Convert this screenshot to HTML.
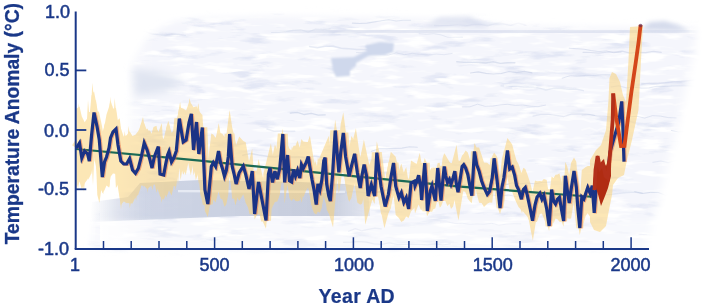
<!DOCTYPE html>
<html><head><meta charset="utf-8"><style>
html,body{margin:0;padding:0;background:#fff;}
body{width:709px;height:308px;overflow:hidden;}
svg{display:block;}
</style></head><body>
<svg width="709" height="308" viewBox="0 0 709 308">
<defs>
<filter id="b12" x="-20%" y="-20%" width="140%" height="140%"><feGaussianBlur stdDeviation="1.3"/></filter>
<filter id="b05"><feGaussianBlur stdDeviation="0.5"/></filter>
<filter id="b3" x="-20%" y="-20%" width="140%" height="140%"><feGaussianBlur stdDeviation="3"/></filter>
<filter id="b8" x="-20%" y="-20%" width="140%" height="140%"><feGaussianBlur stdDeviation="8"/></filter>
<filter id="b4" x="-20%" y="-20%" width="140%" height="140%"><feGaussianBlur stdDeviation="4"/></filter>
<filter id="b2" x="-20%" y="-20%" width="140%" height="140%"><feGaussianBlur stdDeviation="2"/></filter>
<filter id="b1"><feGaussianBlur stdDeviation="0.6"/></filter>
<linearGradient id="fadeL" x1="0" x2="1" y1="0" y2="0">
 <stop offset="0" stop-color="#fff" stop-opacity="1"/><stop offset="0.4" stop-color="#fff" stop-opacity="0.6"/><stop offset="1" stop-color="#fff" stop-opacity="0"/>
</linearGradient>
<filter id="tex" x="0" y="0" width="100%" height="100%">
 <feTurbulence type="fractalNoise" baseFrequency="0.022 0.1" numOctaves="4" seed="7" result="n"/>
 <feColorMatrix in="n" type="matrix" values="0 0 0 0 0.77  0 0 0 0 0.8  0 0 0 0 0.91  5.5 0 0 0 -3.15" result="d"/>
 <feTurbulence type="fractalNoise" baseFrequency="0.03 0.15" numOctaves="3" seed="21" result="n2"/>
 <feColorMatrix in="n2" type="matrix" values="0 0 0 0 1  0 0 0 0 1  0 0 0 0 1  5 0 0 0 -2.6" result="w"/>
 <feMerge><feMergeNode in="d"/><feMergeNode in="w"/></feMerge>
</filter>
<filter id="mblur" x="-20%" y="-20%" width="140%" height="140%"><feGaussianBlur stdDeviation="4"/></filter>
<mask id="iceMask" maskUnits="userSpaceOnUse" x="0" y="0" width="709" height="308">
 <path d="M131,100 L132,62 L145,40 L160,28 L175,21 L200,18 L270,16 L420,18 L480,21 L510,26 L600,27 L700,28 L701,60 L688,120 L676,170 L666,210 L656,248 L90,248 L95,222 L125,195 Z" fill="#fff" filter="url(#mblur)"/>
</mask>
<linearGradient id="grayG" x1="90" x2="370" y1="0" y2="0" gradientUnits="userSpaceOnUse">
 <stop offset="0" stop-color="#ccd3e4" stop-opacity="0"/>
 <stop offset="0.1" stop-color="#ccd3e4" stop-opacity="0.6"/>
 <stop offset="0.2" stop-color="#ccd3e4" stop-opacity="0.95"/>
 <stop offset="0.85" stop-color="#c6ccdc" stop-opacity="1"/>
 <stop offset="1" stop-color="#d4d9e6" stop-opacity="0.6"/>
</linearGradient>
<linearGradient id="horG" x1="260" x2="700" y1="0" y2="0" gradientUnits="userSpaceOnUse">
 <stop offset="0" stop-color="#cdd4e8" stop-opacity="0"/>
 <stop offset="0.15" stop-color="#cdd4e8" stop-opacity="0.9"/>
 <stop offset="0.95" stop-color="#cdd4e8" stop-opacity="0.9"/>
 <stop offset="1" stop-color="#cdd4e8" stop-opacity="0"/>
</linearGradient>
<linearGradient id="fadeR" x1="0" x2="1" y1="0" y2="0">
 <stop offset="0" stop-color="#fff" stop-opacity="0"/><stop offset="0.6" stop-color="#fff" stop-opacity="0.5"/><stop offset="1" stop-color="#fff" stop-opacity="1"/>
</linearGradient>
</defs>
<rect width="709" height="308" fill="#fff"/>
<!-- ice -->
<g filter="url(#b3)">
 <path d="M131,100 L132,62 L145,40 L160,28 L175,21 L200,18 L270,16 L420,18 L480,21 L510,26 L600,27 L700,28 L701,60 L688,120 L676,170 L666,210 L656,248 L90,248 L95,222 L125,195 Z" fill="#f5f6fc"/>
</g>
<g mask="url(#iceMask)">
 <rect x="0" y="0" width="709" height="308" filter="url(#tex)"/>
 <g filter="url(#b05)"><path d="M476.4,188.1 L484.1,189.2 L491.8,187.1 L499.5,189.0 L507.2,190.9 L514.9,190.6 L522.7,191.9 L530.4,190.1 L538.1,191.7 L545.8,191.6 L553.5,193.0 L561.2,193.6 L569.0,192.5" fill="none" stroke="#ffffff" stroke-width="1.7" stroke-opacity="0.38" stroke-linecap="round"/>
<path d="M634.8,191.7 L642.5,193.5 L650.3,192.4 L658.0,192.4 L665.7,195.3 L673.4,193.7" fill="none" stroke="#c4cde4" stroke-width="1.0" stroke-opacity="0.59" stroke-linecap="round"/>
<path d="M611.1,87.0 L618.7,85.7 L626.3,87.9 L634.0,87.2 L641.6,88.1 L649.2,87.9 L656.8,86.2 L664.5,86.4 L672.1,85.9 L679.7,85.9 L687.3,85.7 L695.0,86.4 L702.6,87.4 L710.2,85.6 L717.8,87.7" fill="none" stroke="#c4cde4" stroke-width="1.1" stroke-opacity="0.39" stroke-linecap="round"/>
<path d="M582.0,129.8 L589.4,127.9 L596.8,130.6 L604.2,127.7 L611.6,129.9 L619.0,130.1 L626.4,127.6 L633.8,129.9" fill="none" stroke="#ffffff" stroke-width="1.9" stroke-opacity="0.47" stroke-linecap="round"/>
<path d="M144.9,31.5 L151.6,33.7 L158.4,34.7 L165.1,35.2 L171.8,33.9 L178.6,34.4 L185.3,35.4" fill="none" stroke="#c4cde4" stroke-width="1.4" stroke-opacity="0.33" stroke-linecap="round"/>
<path d="M544.1,201.1 L551.7,198.0 L559.2,198.2 L566.8,198.4 L574.3,198.8 L581.9,196.5 L589.4,197.7 L596.9,196.0 L604.5,194.7 L612.0,194.2 L619.6,193.2 L627.1,192.4 L634.7,192.0 L642.2,193.1" fill="none" stroke="#c4cde4" stroke-width="1.6" stroke-opacity="0.35" stroke-linecap="round"/>
<path d="M166.2,241.2 L174.0,242.2 L181.9,242.8 L189.7,241.5 L197.5,241.3 L205.3,240.1 L213.1,242.6 L220.9,239.8 L228.8,241.1 L236.6,242.0" fill="none" stroke="#ffffff" stroke-width="1.6" stroke-opacity="0.52" stroke-linecap="round"/>
<path d="M652.9,162.4 L660.6,161.0 L668.2,162.6 L675.9,160.5 L683.6,160.5 L691.2,161.7 L698.9,160.7 L706.5,160.6 L714.2,158.6 L721.9,158.2 L729.5,158.4 L737.2,157.2 L744.9,156.2" fill="none" stroke="#c4cde4" stroke-width="1.1" stroke-opacity="0.34" stroke-linecap="round"/>
<path d="M343.6,242.4 L351.2,242.1 L358.8,241.5 L366.4,242.2 L374.0,243.9 L381.6,244.3 L389.3,242.9 L396.9,244.4 L404.5,244.5 L412.1,244.4 L419.7,244.4 L427.3,244.9 L434.9,243.9 L442.6,245.0 L450.2,243.9" fill="none" stroke="#c4cde4" stroke-width="1.2" stroke-opacity="0.53" stroke-linecap="round"/>
<path d="M513.1,87.8 L520.6,86.2 L528.1,88.0 L535.7,87.3 L543.2,88.8 L550.7,88.3 L558.2,89.6 L565.8,89.2 L573.3,89.9 L580.8,88.7 L588.3,89.8 L595.9,90.2 L603.4,90.7 L610.9,89.4 L618.4,91.1" fill="none" stroke="#ffffff" stroke-width="2.4" stroke-opacity="0.51" stroke-linecap="round"/>
<path d="M667.1,234.3 L674.8,236.3 L682.4,236.7 L690.1,235.3 L697.8,236.0 L705.5,236.1 L713.1,236.2 L720.8,234.6 L728.5,236.4 L736.1,235.9" fill="none" stroke="#c4cde4" stroke-width="1.3" stroke-opacity="0.43" stroke-linecap="round"/>
<path d="M476.8,193.3 L484.7,194.0 L492.6,195.1 L500.6,196.0 L508.5,195.0 L516.4,196.7 L524.3,196.8 L532.2,195.3 L540.1,196.9 L548.0,196.4 L556.0,196.2" fill="none" stroke="#c4cde4" stroke-width="0.9" stroke-opacity="0.40" stroke-linecap="round"/>
<path d="M238.0,64.8 L245.0,65.4 L252.1,65.3 L259.1,64.2 L266.1,66.2" fill="none" stroke="#ffffff" stroke-width="1.5" stroke-opacity="0.42" stroke-linecap="round"/>
<path d="M290.4,113.1 L297.4,112.4 L304.3,114.5 L311.3,113.3 L318.2,115.1 L325.2,114.8" fill="none" stroke="#c4cde4" stroke-width="1.3" stroke-opacity="0.59" stroke-linecap="round"/>
<path d="M582.0,115.1 L589.8,114.6 L597.7,116.1 L605.5,116.2 L613.4,117.5 L621.2,117.8 L629.1,116.9 L636.9,116.3 L644.7,118.1 L652.6,115.6 L660.4,116.1 L668.3,117.6 L676.1,117.9" fill="none" stroke="#c4cde4" stroke-width="0.9" stroke-opacity="0.49" stroke-linecap="round"/>
<path d="M621.3,105.2 L629.0,106.9 L636.7,104.8 L644.4,106.2 L652.1,105.7 L659.9,104.4 L667.6,103.1 L675.3,104.9 L683.0,103.1" fill="none" stroke="#ffffff" stroke-width="1.9" stroke-opacity="0.40" stroke-linecap="round"/>
<path d="M671.5,130.5 L678.6,132.0 L685.6,131.4 L692.7,131.0 L699.7,132.4 L706.8,132.5 L713.8,130.0 L720.9,131.6" fill="none" stroke="#c4cde4" stroke-width="1.0" stroke-opacity="0.58" stroke-linecap="round"/>
<path d="M562.2,78.2 L570.2,75.7 L578.1,76.2 L586.1,75.4 L594.1,75.5 L602.0,74.9 L610.0,74.9" fill="none" stroke="#c4cde4" stroke-width="0.9" stroke-opacity="0.53" stroke-linecap="round"/>
<path d="M302.4,141.1 L310.0,140.6 L317.7,140.1 L325.3,141.0 L333.0,140.2 L340.6,138.3 L348.3,138.7 L355.9,139.1" fill="none" stroke="#ffffff" stroke-width="2.4" stroke-opacity="0.57" stroke-linecap="round"/>
<path d="M434.6,25.5 L442.2,25.8 L449.8,25.5 L457.4,24.9 L465.0,26.1 L472.6,24.5 L480.2,24.4 L487.8,25.7 L495.4,23.6 L503.0,23.8 L510.6,25.4 L518.2,23.0 L525.8,25.2" fill="none" stroke="#c4cde4" stroke-width="1.4" stroke-opacity="0.43" stroke-linecap="round"/>
<path d="M294.6,196.0 L302.5,195.8 L310.4,195.2 L318.3,194.2 L326.1,193.3 L334.0,194.1 L341.9,194.3 L349.8,191.7 L357.7,191.7 L365.5,193.0 L373.4,192.5 L381.3,191.6 L389.2,189.3 L397.0,190.9" fill="none" stroke="#c4cde4" stroke-width="1.6" stroke-opacity="0.60" stroke-linecap="round"/>
<path d="M518.7,33.3 L526.1,33.9 L533.5,32.9 L541.0,30.8 L548.4,30.9 L555.8,32.5 L563.2,29.8 L570.7,30.9 L578.1,30.0 L585.5,28.9 L593.0,29.9 L600.4,27.9 L607.8,27.7 L615.2,28.2" fill="none" stroke="#ffffff" stroke-width="1.6" stroke-opacity="0.32" stroke-linecap="round"/>
<path d="M450.6,187.3 L458.3,186.5 L466.0,186.9 L473.6,186.2 L481.3,187.1 L489.0,184.9 L496.6,183.5 L504.3,185.0 L512.0,182.9 L519.6,183.9 L527.3,183.1 L535.0,183.8 L542.6,182.3 L550.3,182.1" fill="none" stroke="#c4cde4" stroke-width="1.0" stroke-opacity="0.47" stroke-linecap="round"/>
<path d="M277.3,188.6 L284.9,188.5 L292.6,189.2 L300.2,187.1 L307.9,188.2 L315.6,187.6 L323.2,185.4 L330.9,186.7 L338.5,184.6 L346.2,184.2" fill="none" stroke="#c4cde4" stroke-width="1.3" stroke-opacity="0.37" stroke-linecap="round"/>
<path d="M613.5,127.7 L621.0,130.2 L628.5,128.5 L636.0,129.2 L643.5,131.9 L651.0,131.5 L658.5,130.4 L666.0,130.5" fill="none" stroke="#ffffff" stroke-width="2.5" stroke-opacity="0.50" stroke-linecap="round"/>
<path d="M583.1,52.4 L590.9,52.5 L598.7,53.1 L606.6,52.2 L614.4,52.1 L622.2,51.2 L630.0,53.1 L637.8,52.3 L645.6,52.6 L653.4,51.3 L661.2,52.4" fill="none" stroke="#c4cde4" stroke-width="1.2" stroke-opacity="0.48" stroke-linecap="round"/>
<path d="M449.6,185.7 L456.9,185.7 L464.2,184.7 L471.5,186.8 L478.9,185.1 L486.2,185.5 L493.5,182.7 L500.9,183.7 L508.2,184.4" fill="none" stroke="#c4cde4" stroke-width="1.3" stroke-opacity="0.43" stroke-linecap="round"/>
<path d="M391.4,43.9 L399.0,43.5 L406.7,44.6 L414.3,42.0 L421.9,41.8 L429.6,41.5" fill="none" stroke="#ffffff" stroke-width="1.7" stroke-opacity="0.39" stroke-linecap="round"/>
<path d="M267.0,129.1 L273.9,131.3 L280.9,131.0 L287.8,131.4 L294.7,131.3" fill="none" stroke="#c4cde4" stroke-width="1.6" stroke-opacity="0.34" stroke-linecap="round"/>
<path d="M501.0,85.9 L508.5,86.3 L516.0,86.0 L523.5,86.9 L531.0,86.7 L538.4,88.0 L545.9,90.0 L553.4,88.4 L560.9,88.5 L568.4,89.3 L575.9,89.0 L583.4,90.6" fill="none" stroke="#c4cde4" stroke-width="1.4" stroke-opacity="0.35" stroke-linecap="round"/>
<path d="M269.9,171.7 L277.4,173.5 L284.9,170.8 L292.4,171.1 L299.9,173.4 L307.4,172.5 L314.9,171.6 L322.4,173.3 L329.9,174.8 L337.3,173.5 L344.8,173.2 L352.3,172.6 L359.8,172.7 L367.3,175.4 L374.8,174.3" fill="none" stroke="#ffffff" stroke-width="2.4" stroke-opacity="0.32" stroke-linecap="round"/>
<path d="M271.5,32.5 L278.8,32.5 L286.2,31.6 L293.5,30.4 L300.9,29.8 L308.2,32.1 L315.5,29.2 L322.9,29.7 L330.2,28.8" fill="none" stroke="#c4cde4" stroke-width="1.2" stroke-opacity="0.33" stroke-linecap="round"/>
<path d="M309.5,46.4 L317.4,47.7 L325.3,46.3 L333.2,46.2 L341.1,48.3 L349.0,48.7 L356.9,49.5 L364.8,49.4 L372.7,50.7 L380.6,51.5" fill="none" stroke="#c4cde4" stroke-width="1.5" stroke-opacity="0.39" stroke-linecap="round"/>
<path d="M382.5,205.7 L389.8,204.6 L397.2,206.2 L404.5,205.9 L411.8,203.9 L419.2,202.9 L426.5,202.3" fill="none" stroke="#ffffff" stroke-width="1.7" stroke-opacity="0.33" stroke-linecap="round"/>
<path d="M371.5,151.3 L379.1,148.8 L386.8,148.7 L394.4,148.4 L402.0,148.1 L409.7,146.8 L417.3,147.2" fill="none" stroke="#c4cde4" stroke-width="1.1" stroke-opacity="0.53" stroke-linecap="round"/>
<path d="M440.3,222.1 L447.6,222.0 L454.9,223.4 L462.3,223.2 L469.6,224.4 L476.9,224.0 L484.2,224.3 L491.6,223.3 L498.9,225.2 L506.2,224.2 L513.6,223.8 L520.9,223.9" fill="none" stroke="#c4cde4" stroke-width="0.9" stroke-opacity="0.38" stroke-linecap="round"/>
<path d="M505.0,85.8 L512.6,84.6 L520.2,85.0 L527.8,85.5 L535.4,86.5" fill="none" stroke="#ffffff" stroke-width="2.4" stroke-opacity="0.58" stroke-linecap="round"/>
<path d="M470.5,73.0 L478.2,71.9 L485.8,73.4 L493.5,74.0 L501.2,73.5 L508.9,71.5 L516.6,72.6 L524.3,71.4 L531.9,72.8" fill="none" stroke="#c4cde4" stroke-width="1.2" stroke-opacity="0.58" stroke-linecap="round"/>
<path d="M569.2,48.2 L576.6,48.7 L584.0,49.2 L591.4,50.6 L598.9,51.6 L606.3,50.9 L613.7,52.7 L621.1,52.1" fill="none" stroke="#c4cde4" stroke-width="0.9" stroke-opacity="0.54" stroke-linecap="round"/>
<path d="M366.5,33.9 L374.2,33.0 L382.0,33.7 L389.7,31.6 L397.4,30.5 L405.1,30.1 L412.8,29.3 L420.6,29.8 L428.3,28.6 L436.0,29.2 L443.7,27.1 L451.5,26.9 L459.2,26.0 L466.9,27.6 L474.6,26.6" fill="none" stroke="#ffffff" stroke-width="2.3" stroke-opacity="0.49" stroke-linecap="round"/>
<path d="M356.5,52.5 L364.4,52.9 L372.4,52.7 L380.4,54.5 L388.4,55.1 L396.3,52.9 L404.3,54.7 L412.3,53.3 L420.3,54.3 L428.2,54.9 L436.2,54.1 L444.2,54.7 L452.2,53.4" fill="none" stroke="#c4cde4" stroke-width="0.8" stroke-opacity="0.45" stroke-linecap="round"/>
<path d="M456.8,61.8 L464.1,62.4 L471.3,62.4 L478.6,62.5 L485.8,63.0 L493.1,61.8 L500.4,63.4 L507.6,62.7 L514.9,62.8" fill="none" stroke="#c4cde4" stroke-width="1.4" stroke-opacity="0.50" stroke-linecap="round"/>
<path d="M429.8,200.6 L437.8,200.3 L445.8,199.7 L453.8,199.2 L461.7,199.3 L469.7,200.3 L477.7,201.1 L485.7,201.7" fill="none" stroke="#ffffff" stroke-width="2.2" stroke-opacity="0.39" stroke-linecap="round"/>
<path d="M641.8,84.0 L649.6,83.2 L657.4,83.5 L665.2,82.8 L673.0,81.7 L680.8,81.6 L688.6,80.7 L696.4,79.8 L704.2,78.1 L712.0,78.5 L719.8,79.1 L727.6,76.6" fill="none" stroke="#c4cde4" stroke-width="1.6" stroke-opacity="0.46" stroke-linecap="round"/>
<path d="M352.4,23.1 L359.7,23.5 L367.0,23.1 L374.3,21.9 L381.5,20.8 L388.8,19.6 L396.1,21.0 L403.3,20.2 L410.6,20.3" fill="none" stroke="#c4cde4" stroke-width="1.1" stroke-opacity="0.57" stroke-linecap="round"/>
<path d="M254.9,91.3 L262.8,89.3 L270.8,90.9 L278.7,91.4 L286.7,89.9 L294.7,89.6 L302.6,91.3" fill="none" stroke="#ffffff" stroke-width="2.3" stroke-opacity="0.56" stroke-linecap="round"/>
<path d="M533.1,116.2 L540.8,114.4 L548.4,114.4 L556.1,115.4 L563.7,116.5 L571.4,114.2 L579.0,113.8 L586.7,114.1 L594.3,115.4" fill="none" stroke="#c4cde4" stroke-width="1.3" stroke-opacity="0.36" stroke-linecap="round"/>
<path d="M242.8,155.3 L250.7,153.5 L258.7,155.0 L266.7,156.3 L274.7,156.9 L282.7,155.3 L290.7,157.1 L298.7,156.7 L306.7,157.8 L314.7,156.0 L322.7,157.6" fill="none" stroke="#c4cde4" stroke-width="1.5" stroke-opacity="0.44" stroke-linecap="round"/>
<path d="M194.4,64.1 L202.1,65.0 L209.8,63.0 L217.4,64.4 L225.1,63.9 L232.7,63.6" fill="none" stroke="#ffffff" stroke-width="2.3" stroke-opacity="0.51" stroke-linecap="round"/>
<path d="M639.0,234.2 L646.8,234.8 L654.6,235.2 L662.4,236.3 L670.3,237.3 L678.1,238.2 L685.9,239.4 L693.7,240.2 L701.5,238.8 L709.3,240.3 L717.1,241.3" fill="none" stroke="#c4cde4" stroke-width="1.1" stroke-opacity="0.34" stroke-linecap="round"/>
<path d="M462.4,106.9 L470.0,106.8 L477.5,104.2 L485.1,106.3 L492.7,106.1 L500.2,104.9 L507.8,104.3 L515.3,105.4 L522.9,105.0 L530.4,106.2 L538.0,106.7 L545.5,105.1" fill="none" stroke="#c4cde4" stroke-width="1.0" stroke-opacity="0.45" stroke-linecap="round"/>
<path d="M516.3,197.5 L523.7,198.7 L531.1,197.5 L538.5,195.9 L545.9,196.7 L553.3,196.0 L560.7,197.0 L568.1,195.0 L575.5,195.3 L582.8,194.6 L590.2,195.5" fill="none" stroke="#ffffff" stroke-width="2.5" stroke-opacity="0.46" stroke-linecap="round"/>
<path d="M348.6,231.2 L355.2,228.6 L361.7,230.8 L368.3,229.4 L374.8,228.2 L381.4,228.8" fill="none" stroke="#c4cde4" stroke-width="1.2" stroke-opacity="0.41" stroke-linecap="round"/>
<path d="M419.1,33.7 L426.3,34.3 L433.6,33.7 L440.8,34.8 L448.1,37.4 L455.4,37.2 L462.6,37.2" fill="none" stroke="#c4cde4" stroke-width="0.8" stroke-opacity="0.42" stroke-linecap="round"/>
<path d="M560.4,119.4 L567.9,119.8 L575.4,118.5 L583.0,119.0 L590.5,121.7 L598.1,121.1 L605.6,123.0 L613.2,123.3 L620.7,124.1 L628.3,122.9 L635.8,125.3" fill="none" stroke="#ffffff" stroke-width="2.3" stroke-opacity="0.57" stroke-linecap="round"/></g>
</g>

<rect x="100" y="20" width="55" height="230" fill="url(#fadeL)"/>
<path d="M90,224 L92,202 L128,197 L140,183 L200,180 L300,182 L345,184 L368,188 L370,216 L240,216 L90,222 Z" fill="url(#grayG)" filter="url(#b1)"/>
<rect x="90" y="220" width="580" height="28" fill="#fff" opacity="0.35" filter="url(#b2)"/>
<path d="M178,191 L345,192" stroke="#e6eaf3" stroke-width="2.5" fill="none" filter="url(#b1)"/>
<g filter="url(#b12)" fill="#cfd8ec">
 <path d="M331,58 L356,57 L356,66 L350,70 L350,76 L336,77 L333,70 Z"/>
 <path d="M352,58 L366,51 L370,55 L356,63 Z"/>
 <path d="M365,45 L380,42 L394,43 L393,52 L385,55 L368,56 Z"/>
</g>
<g filter="url(#b4)">
 <path d="M133,68 L160,72 L185,82 L165,92 L135,96 Z" fill="#e0e5f1"/>
</g>
<g filter="url(#b2)" stroke="url(#horG)" stroke-width="3.5" fill="none">
 <path d="M260,32 Q400,30 500,31.5 T700,31"/>
</g>
<g filter="url(#b2)" fill="#d5dbec">
 <path d="M640,30 L650,22 L665,21 L680,26 L690,31 Z"/>
 <path d="M420,28 L440,17 L470,16 L490,28 Z" opacity="0.6"/>
</g>
<path d="M712,0 L712,270 L642,270 L654,215 L666,170 L679,120 L692,60 L699,20 L699,0 Z" fill="#fff" filter="url(#b4)"/>
<!-- band -->
<g opacity="0.55">
<path d="M76.3,108.7 L79.5,106.6 L81.8,116.6 L84.7,122.3 L87.6,117.8 L89.3,118.3 L91.5,95.5 L94.0,91.3 L97.0,107.2 L99.3,119.9 L102.3,133.1 L104.5,125.6 L106.5,114.5 L109.0,107.1 L110.5,100.3 L113.0,108.6 L116.0,108.0 L118.0,121.4 L120.8,128.2 L123.7,136.6 L126.6,135.3 L129.6,131.3 L132.5,136.1 L135.4,134.7 L138.3,130.9 L141.3,124.1 L144.2,123.3 L147.1,130.8 L150.0,130.6 L152.0,134.2 L154.3,127.0 L158.3,130.9 L160.0,134.7 L163.7,138.9 L165.6,131.0 L167.6,127.1 L169.0,123.4 L171.5,132.8 L173.8,130.6 L176.3,123.5 L179.3,107.3 L183.2,108.4 L186.1,110.5 L189.0,102.6 L191.3,103.7 L193.5,107.3 L196.5,106.2 L198.8,110.7 L202.3,114.9 L204.9,146.9 L207.8,162.1 L209.7,147.3 L211.3,133.6 L213.3,134.4 L215.6,137.8 L218.5,131.0 L220.5,132.9 L222.4,133.7 L224.4,136.9 L226.3,135.3 L228.3,119.9 L229.6,110.0 L232.2,127.6 L234.1,135.2 L236.1,145.0 L239.2,136.4 L243.3,140.9 L245.7,142.3 L249.0,161.5 L252.2,148.6 L254.6,185.1 L258.5,159.0 L266.0,190.0 L268.4,156.1 L270.0,153.4 L272.5,156.7 L274.9,144.2 L277.3,150.6 L279.8,140.8 L282.8,128.6 L284.6,156.6 L287.5,144.4 L289.5,148.8 L291.6,150.6 L293.5,145.7 L295.5,145.7 L297.5,140.5 L299.8,147.4 L301.4,139.1 L303.3,141.6 L306.2,142.1 L308.2,142.1 L310.1,145.1 L312.1,156.0 L314.0,162.0 L316.2,173.6 L317.9,157.2 L319.9,162.1 L321.8,153.5 L323.8,148.9 L325.1,147.5 L326.7,154.0 L328.7,168.8 L330.3,174.0 L332.6,143.6 L335.2,119.6 L338.8,143.3 L340.7,123.9 L343.3,112.2 L345.6,130.0 L349.1,148.6 L351.4,136.1 L354.6,141.1 L357.3,146.6 L360.2,157.3 L362.2,150.5 L364.1,151.3 L366.6,158.5 L368.1,168.8 L371.3,159.0 L374.6,167.2 L376.8,141.3 L381.0,159.5 L385.1,180.4 L388.4,163.8 L390.8,151.8 L393.5,154.4 L395.7,156.8 L398.9,171.1 L401.3,163.6 L403.8,172.6 L406.2,166.9 L408.6,181.9 L411.0,160.6 L414.3,162.6 L415.0,162.9 L417.0,164.0 L418.6,162.5 L420.7,162.2 L421.6,171.3 L424.7,158.0 L426.7,162.7 L427.3,180.6 L430.4,169.8 L432.0,167.2 L433.7,171.7 L435.3,173.0 L437.7,163.0 L439.7,162.8 L441.0,171.8 L442.6,158.1 L444.2,153.3 L445.8,155.4 L447.5,158.6 L449.4,161.7 L451.0,163.3 L453.1,162.4 L454.8,162.2 L456.4,160.0 L458.0,160.6 L460.1,160.7 L462.1,155.5 L463.7,153.7 L465.6,150.4 L467.8,152.6 L470.2,160.2 L471.8,167.6 L474.4,143.0 L476.7,147.4 L479.1,147.5 L481.6,155.0 L484.0,162.4 L487.3,162.7 L489.6,165.1 L492.2,156.3 L494.1,152.6 L497.0,156.6 L500.0,177.2 L501.9,158.6 L503.9,151.4 L507.4,138.1 L509.7,140.9 L512.2,144.6 L514.6,153.8 L516.5,160.4 L518.5,163.9 L521.4,172.9 L523.4,167.7 L525.3,169.1 L527.3,174.0 L530.2,182.8 L532.5,192.1 L535.0,180.4 L537.0,181.3 L539.9,181.1 L541.9,181.2 L543.8,179.1 L546.7,180.0 L549.1,195.5 L551.6,176.6 L553.6,178.0 L555.5,174.8 L557.5,174.4 L559.4,173.2 L561.4,181.0 L563.6,192.1 L565.3,161.8 L567.2,166.2 L569.2,174.9 L571.1,162.7 L574.0,157.4 L576.3,161.7 L577.9,182.0 L579.8,201.1 L581.8,170.1 L583.8,168.4 L585.7,167.0 L587.7,166.0 L590.2,166.1 L592.2,159.3 L594.2,187.1 L594.2,225.4 L592.2,213.7 L590.2,217.1 L587.7,213.3 L585.7,215.7 L583.8,222.5 L581.8,225.4 L579.8,234.9 L577.9,224.6 L576.3,217.7 L574.0,200.8 L571.1,218.6 L569.2,218.8 L567.2,218.3 L565.3,203.1 L563.6,226.7 L561.4,221.2 L559.4,221.8 L557.5,219.3 L555.5,218.5 L553.6,223.5 L551.6,215.3 L549.1,230.9 L546.7,224.3 L543.8,218.3 L541.9,213.5 L539.9,214.0 L537.0,221.8 L535.0,222.4 L532.5,227.4 L530.2,222.7 L527.3,216.6 L525.3,214.3 L523.4,212.0 L521.4,210.0 L518.5,207.0 L516.5,202.7 L514.6,198.4 L512.2,191.9 L509.7,191.1 L507.4,176.4 L503.9,205.4 L501.9,207.7 L500.0,214.3 L497.0,205.7 L494.1,187.1 L492.2,202.8 L489.6,202.5 L487.3,203.7 L484.0,207.1 L481.6,203.0 L479.1,202.7 L476.7,193.7 L474.4,182.0 L471.8,203.3 L470.2,201.7 L467.8,198.7 L465.6,192.5 L463.7,191.1 L462.1,193.6 L460.1,201.0 L458.0,203.4 L456.4,204.8 L454.8,199.4 L453.1,206.5 L451.0,208.9 L449.4,203.8 L447.5,206.2 L445.8,202.2 L444.2,196.9 L442.6,202.4 L441.0,206.5 L439.7,207.5 L437.7,198.2 L435.3,208.6 L433.7,209.0 L432.0,211.0 L430.4,210.1 L427.3,216.1 L426.7,214.9 L424.7,190.6 L421.6,210.4 L420.7,209.6 L418.6,204.5 L417.0,208.4 L415.0,213.5 L414.3,207.4 L411.0,211.4 L408.6,218.1 L406.2,216.5 L403.8,220.5 L401.3,221.9 L398.9,218.0 L395.7,215.1 L393.5,194.1 L390.8,208.4 L388.4,212.8 L385.1,216.3 L381.0,214.1 L376.8,180.6 L374.6,204.1 L371.3,197.8 L368.1,201.0 L366.6,198.3 L364.1,195.2 L362.2,203.5 L360.2,204.8 L357.3,202.5 L354.6,183.3 L351.4,198.1 L349.1,202.1 L345.6,185.7 L343.3,162.2 L340.7,183.3 L338.8,193.4 L335.2,158.9 L332.6,200.8 L330.3,212.5 L328.7,213.2 L326.7,209.7 L325.1,184.7 L323.8,188.0 L321.8,207.3 L319.9,212.7 L317.9,211.4 L316.2,214.4 L314.0,212.9 L312.1,208.0 L310.1,196.6 L308.2,187.3 L306.2,190.3 L303.3,197.4 L301.4,193.6 L299.8,200.6 L297.5,201.3 L295.5,200.9 L293.5,198.4 L291.6,200.9 L289.5,198.3 L287.5,184.5 L284.6,203.8 L282.8,164.1 L279.8,194.5 L277.3,201.6 L274.9,202.0 L272.5,207.1 L270.0,196.4 L268.4,203.1 L266.0,228.8 L258.5,212.1 L254.6,219.4 L252.2,199.9 L249.0,209.1 L245.7,203.0 L243.3,194.2 L239.2,201.1 L236.1,194.9 L234.1,198.5 L232.2,198.8 L229.6,170.3 L228.3,194.4 L226.3,204.6 L224.4,206.8 L222.4,199.6 L220.5,198.4 L218.5,191.4 L215.6,202.5 L213.3,199.7 L211.3,202.4 L209.7,206.2 L207.8,216.9 L204.9,210.9 L202.3,164.3 L198.8,183.7 L196.5,166.3 L193.5,175.4 L191.3,151.7 L189.0,159.9 L186.1,169.5 L183.2,174.8 L179.3,161.2 L176.3,186.5 L173.8,185.9 L171.5,195.5 L169.0,190.3 L167.6,194.4 L165.6,195.3 L163.7,199.7 L160.0,196.2 L158.3,190.7 L154.3,184.3 L152.0,185.2 L150.0,186.8 L147.1,189.0 L144.2,186.1 L141.3,185.4 L138.3,194.8 L135.4,197.3 L132.5,203.4 L129.6,203.2 L126.6,203.0 L123.7,201.4 L120.8,205.3 L118.0,188.3 L116.0,174.0 L113.0,173.4 L110.5,176.8 L109.0,187.5 L106.5,185.6 L104.5,190.3 L102.3,193.1 L99.3,183.3 L97.0,171.5 L94.0,157.0 L91.5,173.4 L89.3,175.7 L87.6,179.2 L84.7,183.2 L81.8,189.5 L79.5,181.6 L76.3,188.5 Z" fill="#fbd47c"/>
<path d="M75.7,105.0 L77.2,135.2 L78.6,103.0 L81.4,123.1 L84.2,123.3 L86.1,136.0 L88.0,100.0 L90.2,125.9 L92.3,82.7 L94.2,101.4 L96.0,100.0 L97.7,116.7 L99.4,115.7 L102.0,144.0 L104.5,123.3 L107.4,134.3 L110.3,96.6 L111.4,112.9 L112.5,105.0 L113.5,121.2 L114.6,97.9 L117.2,122.2 L119.7,125.8 L122.2,148.8 L124.8,131.0 L126.7,148.0 L128.6,125.8 L131.8,152.3 L134.9,134.7 L137.6,150.2 L140.3,125.7 L143.0,117.0 L145.3,130.0 L147.6,128.4 L150.6,136.7 L153.5,127.1 L156.5,125.8 L159.1,139.3 L161.6,133.5 L163.9,153.3 L166.1,127.8 L168.4,120.8 L171.4,134.8 L174.3,131.0 L177.2,119.0 L180.1,101.7 L182.2,116.5 L184.4,110.6 L186.9,117.8 L189.5,97.9 L192.1,108.9 L194.6,108.1 L196.5,112.8 L198.4,103.0 L200.3,117.8 L202.2,114.4 L200.9,198.0 L198.4,172.7 L195.8,180.3 L193.3,163.2 L190.8,175.2 L188.2,162.7 L185.7,175.2 L183.1,164.9 L180.6,180.3 L179.3,167.7 L178.0,185.4 L176.8,174.1 L175.5,190.5 L173.6,175.1 L171.7,195.5 L169.1,182.2 L166.6,198.0 L164.1,189.5 L161.6,203.1 L159.1,181.3 L156.5,193.0 L154.6,181.2 L152.7,185.4 L150.1,176.7 L147.6,193.0 L145.7,169.4 L143.8,188.0 L141.9,176.8 L140.0,190.5 L138.1,179.5 L136.2,200.6 L133.0,190.6 L129.8,208.2 L127.9,187.0 L126.0,204.4 L123.5,183.4 L121.0,209.5 L118.5,183.7 L115.9,188.0 L114.6,163.6 L113.3,172.7 L111.4,160.3 L109.5,188.0 L106.3,171.2 L103.2,194.3 L101.3,189.4 L99.4,203.1 L97.3,195.1 L95.1,139.4 L93.0,185.4 L91.8,164.1 L90.5,175.2 L88.3,179.8 L86.2,161.5 L84.0,192.0 L80.9,171.0 L77.8,190.5 L76.8,162.5 L75.7,190.0 Z" fill="#fbd47c"/>
<path d="M590.0,160.0 L596.0,150.0 L601.0,145.0 L606.0,130.0 L608.5,100.0 L609.5,78.0 L612.0,72.0 L616.0,74.0 L620.0,82.0 L623.0,95.0 L626.0,102.0 L628.5,60.0 L630.0,27.0 L643.0,26.0 L641.0,60.0 L638.5,110.0 L632.0,140.0 L627.0,160.0 L624.0,175.0 L618.0,178.0 L613.0,185.0 L612.0,195.0 L609.0,210.0 L606.0,226.0 L600.0,232.0 L594.0,230.0 L590.0,222.0 Z" fill="#fbd47c"/>
<path d="M76.3,148.0 L79.5,143.0 L81.8,158.0 L84.7,151.0 L87.6,154.0 L89.3,161.0 L91.5,136.0 L94.0,112.5 L97.0,126.5 L99.3,140.0 L102.3,177.0 L104.5,162.0 L106.5,157.0 L109.0,148.0 L110.5,138.0 L113.0,132.0 L116.0,129.0 L118.0,145.0 L120.8,161.0 L123.7,164.0 L126.6,164.0 L129.6,158.6 L132.5,170.0 L135.4,173.3 L138.3,168.4 L141.3,156.7 L144.2,143.0 L147.1,150.0 L150.0,160.0 L152.0,168.0 L154.3,157.0 L158.3,146.5 L160.0,174.0 L163.7,175.0 L165.6,164.5 L167.6,155.0 L169.0,151.5 L171.5,162.0 L173.8,158.0 L176.3,151.0 L179.3,118.6 L183.2,142.0 L186.1,140.0 L189.0,122.5 L191.3,113.8 L193.5,150.0 L196.5,122.0 L198.8,154.0 L202.3,127.5 L204.9,189.8 L207.8,204.0 L209.7,184.0 L211.3,166.4 L213.3,162.5 L215.6,166.4 L218.5,151.0 L220.5,162.5 L222.4,168.4 L224.4,176.2 L226.3,170.3 L228.3,156.7 L229.6,134.0 L232.2,166.4 L234.1,174.2 L236.1,184.0 L239.2,172.7 L243.3,166.2 L245.7,174.3 L249.0,189.0 L252.2,171.0 L254.6,214.0 L258.5,182.0 L266.0,220.5 L268.4,174.3 L270.0,167.8 L272.5,182.4 L274.9,171.1 L277.3,179.2 L279.8,167.8 L282.8,134.0 L284.6,182.4 L287.5,155.0 L289.5,180.8 L291.6,182.0 L293.5,169.4 L295.5,176.2 L297.5,170.3 L299.8,178.1 L301.4,164.5 L303.3,168.4 L306.2,162.5 L308.2,156.5 L310.1,168.4 L312.1,180.1 L314.0,189.8 L316.2,204.5 L317.9,184.0 L319.9,189.8 L321.8,180.1 L323.8,160.6 L325.1,157.5 L326.7,184.0 L328.7,195.7 L330.3,201.0 L332.6,174.2 L335.2,130.5 L338.8,172.3 L340.7,152.8 L343.3,133.0 L345.6,156.7 L349.1,176.2 L351.4,166.4 L354.6,153.8 L357.3,172.3 L360.2,187.9 L362.2,174.2 L364.1,164.5 L366.6,176.2 L368.1,196.0 L371.3,184.6 L374.6,196.0 L376.8,152.6 L381.0,186.2 L385.1,206.5 L388.4,194.3 L390.8,178.0 L393.5,163.0 L395.7,186.2 L398.9,197.6 L401.3,192.7 L403.8,202.4 L406.2,197.6 L408.6,208.9 L411.0,183.0 L414.3,181.3 L415.0,185.8 L417.0,181.0 L418.6,175.3 L420.7,187.5 L421.6,200.0 L424.7,163.1 L426.7,194.0 L427.3,211.0 L430.4,190.7 L432.0,185.8 L433.7,194.0 L435.3,201.0 L437.7,168.0 L439.7,187.5 L441.0,200.5 L442.6,182.6 L444.2,166.4 L445.8,176.1 L447.5,182.6 L449.4,179.4 L451.0,184.2 L453.1,177.7 L454.8,171.2 L456.4,184.2 L458.0,192.3 L460.1,179.4 L462.1,166.4 L463.7,164.7 L465.6,168.0 L467.8,174.5" fill="none" stroke="#fbd47c" stroke-width="10" stroke-linejoin="miter" stroke-miterlimit="6"/>
<path d="M467.8,174.5 L470.2,187.5 L471.8,195.6 L474.4,151.4 L476.7,164.7 L479.1,171.2 L481.6,181.0 L484.0,187.5 L487.3,194.4 L489.6,191.4 L492.2,177.8 L494.1,158.3 L497.0,180.0 L500.0,208.0 L501.9,187.5 L503.9,177.8 L507.4,150.5 L509.7,169.0 L512.2,167.0 L514.6,175.0 L516.5,185.6 L518.5,189.5 L521.4,199.2 L523.4,189.5 L525.3,187.5 L527.3,195.3 L530.2,209.0 L532.5,220.7 L535.0,205.1 L537.0,197.3 L539.9,193.4 L541.9,199.2 L543.8,195.3 L546.7,209.0 L549.1,226.0 L551.6,189.5 L553.6,201.2 L555.5,204.1 L557.5,199.2 L559.4,197.3 L561.4,209.0 L563.6,221.0 L565.3,175.8 L567.2,189.5 L569.2,203.1 L571.1,189.5 L574.0,171.0 L576.3,187.0 L577.9,209.0 L579.8,228.0 L581.8,197.0 L583.8,199.2 L585.7,193.4 L587.7,187.5 L590.2,193.4 L592.2,185.6 L594.2,213.0" fill="none" stroke="#fbd47c" stroke-width="7" stroke-linejoin="miter" stroke-miterlimit="6"/>
</g>
<!-- green -->
<path d="M76.0,149.0 L200.0,160.6 L330.0,173.8 L460.0,186.6 L595.0,197.0" fill="none" stroke="#1a6a55" stroke-width="2.2"/>
<!-- blue -->
<path d="M76.3,148.0 L79.5,143.0 L81.8,158.0 L84.7,151.0 L87.6,154.0 L89.3,161.0 L91.5,136.0 L94.0,112.5 L97.0,126.5 L99.3,140.0 L102.3,177.0 L104.5,162.0 L106.5,157.0 L109.0,148.0 L110.5,138.0 L113.0,132.0 L116.0,129.0 L118.0,145.0 L120.8,161.0 L123.7,164.0 L126.6,164.0 L129.6,158.6 L132.5,170.0 L135.4,173.3 L138.3,168.4 L141.3,156.7 L144.2,143.0 L147.1,150.0 L150.0,160.0 L152.0,168.0 L154.3,157.0 L158.3,146.5 L160.0,174.0 L163.7,175.0 L165.6,164.5 L167.6,155.0 L169.0,151.5 L171.5,162.0 L173.8,158.0 L176.3,151.0 L179.3,118.6 L183.2,142.0 L186.1,140.0 L189.0,122.5 L191.3,113.8 L193.5,150.0 L196.5,122.0 L198.8,154.0 L202.3,127.5 L204.9,189.8 L207.8,204.0 L209.7,184.0 L211.3,166.4 L213.3,162.5 L215.6,166.4 L218.5,151.0 L220.5,162.5 L222.4,168.4 L224.4,176.2 L226.3,170.3 L228.3,156.7 L229.6,134.0 L232.2,166.4 L234.1,174.2 L236.1,184.0 L239.2,172.7 L243.3,166.2 L245.7,174.3 L249.0,189.0 L252.2,171.0 L254.6,214.0 L258.5,182.0 L266.0,220.5 L268.4,174.3 L270.0,167.8 L272.5,182.4 L274.9,171.1 L277.3,179.2 L279.8,167.8 L282.8,134.0 L284.6,182.4 L287.5,155.0 L289.5,180.8 L291.6,182.0 L293.5,169.4 L295.5,176.2 L297.5,170.3 L299.8,178.1 L301.4,164.5 L303.3,168.4 L306.2,162.5 L308.2,156.5 L310.1,168.4 L312.1,180.1 L314.0,189.8 L316.2,204.5 L317.9,184.0 L319.9,189.8 L321.8,180.1 L323.8,160.6 L325.1,157.5 L326.7,184.0 L328.7,195.7 L330.3,201.0 L332.6,174.2 L335.2,130.5 L338.8,172.3 L340.7,152.8 L343.3,133.0 L345.6,156.7 L349.1,176.2 L351.4,166.4 L354.6,153.8 L357.3,172.3 L360.2,187.9 L362.2,174.2 L364.1,164.5 L366.6,176.2 L368.1,196.0 L371.3,184.6 L374.6,196.0 L376.8,152.6 L381.0,186.2 L385.1,206.5 L388.4,194.3 L390.8,178.0 L393.5,163.0 L395.7,186.2 L398.9,197.6 L401.3,192.7 L403.8,202.4 L406.2,197.6 L408.6,208.9 L411.0,183.0 L414.3,181.3 L415.0,185.8 L417.0,181.0 L418.6,175.3 L420.7,187.5 L421.6,200.0 L424.7,163.1 L426.7,194.0 L427.3,211.0 L430.4,190.7 L432.0,185.8 L433.7,194.0 L435.3,201.0 L437.7,168.0 L439.7,187.5 L441.0,200.5 L442.6,182.6 L444.2,166.4 L445.8,176.1 L447.5,182.6 L449.4,179.4 L451.0,184.2 L453.1,177.7 L454.8,171.2 L456.4,184.2 L458.0,192.3 L460.1,179.4 L462.1,166.4 L463.7,164.7 L465.6,168.0 L467.8,174.5 L470.2,187.5 L471.8,195.6 L474.4,151.4 L476.7,164.7 L479.1,171.2 L481.6,181.0 L484.0,187.5 L487.3,194.4 L489.6,191.4 L492.2,177.8 L494.1,158.3 L497.0,180.0 L500.0,208.0 L501.9,187.5 L503.9,177.8 L507.4,150.5 L509.7,169.0 L512.2,167.0 L514.6,175.0 L516.5,185.6 L518.5,189.5 L521.4,199.2 L523.4,189.5 L525.3,187.5 L527.3,195.3 L530.2,209.0 L532.5,220.7 L535.0,205.1 L537.0,197.3 L539.9,193.4 L541.9,199.2 L543.8,195.3 L546.7,209.0 L549.1,226.0 L551.6,189.5 L553.6,201.2 L555.5,204.1 L557.5,199.2 L559.4,197.3 L561.4,209.0 L563.6,221.0 L565.3,175.8 L567.2,189.5 L569.2,203.1 L571.1,189.5 L574.0,171.0 L576.3,187.0 L577.9,209.0 L579.8,228.0 L581.8,197.0 L583.8,199.2 L585.7,193.4 L587.7,187.5 L590.2,193.4 L592.2,185.6 L594.2,213.0 L596.5,183.0 L600.0,176.0 L604.0,170.0 L607.5,176.0 L610.0,152.0 L614.0,138.0 L618.8,122.0 L621.7,101.4 L622.8,125.0 L624.0,161.6" fill="none" stroke="#e4683c" stroke-opacity="0.5" stroke-width="3.2" stroke-linejoin="miter" stroke-miterlimit="4" transform="translate(1.1,0.4)"/>
<path d="M76.3,148.0 L79.5,143.0 L81.8,158.0 L84.7,151.0 L87.6,154.0 L89.3,161.0 L91.5,136.0 L94.0,112.5 L97.0,126.5 L99.3,140.0 L102.3,177.0 L104.5,162.0 L106.5,157.0 L109.0,148.0 L110.5,138.0 L113.0,132.0 L116.0,129.0 L118.0,145.0 L120.8,161.0 L123.7,164.0 L126.6,164.0 L129.6,158.6 L132.5,170.0 L135.4,173.3 L138.3,168.4 L141.3,156.7 L144.2,143.0 L147.1,150.0 L150.0,160.0 L152.0,168.0 L154.3,157.0 L158.3,146.5 L160.0,174.0 L163.7,175.0 L165.6,164.5 L167.6,155.0 L169.0,151.5 L171.5,162.0 L173.8,158.0 L176.3,151.0 L179.3,118.6 L183.2,142.0 L186.1,140.0 L189.0,122.5 L191.3,113.8 L193.5,150.0 L196.5,122.0 L198.8,154.0 L202.3,127.5 L204.9,189.8 L207.8,204.0 L209.7,184.0 L211.3,166.4 L213.3,162.5 L215.6,166.4 L218.5,151.0 L220.5,162.5 L222.4,168.4 L224.4,176.2 L226.3,170.3 L228.3,156.7 L229.6,134.0 L232.2,166.4 L234.1,174.2 L236.1,184.0 L239.2,172.7 L243.3,166.2 L245.7,174.3 L249.0,189.0 L252.2,171.0 L254.6,214.0 L258.5,182.0 L266.0,220.5 L268.4,174.3 L270.0,167.8 L272.5,182.4 L274.9,171.1 L277.3,179.2 L279.8,167.8 L282.8,134.0 L284.6,182.4 L287.5,155.0 L289.5,180.8 L291.6,182.0 L293.5,169.4 L295.5,176.2 L297.5,170.3 L299.8,178.1 L301.4,164.5 L303.3,168.4 L306.2,162.5 L308.2,156.5 L310.1,168.4 L312.1,180.1 L314.0,189.8 L316.2,204.5 L317.9,184.0 L319.9,189.8 L321.8,180.1 L323.8,160.6 L325.1,157.5 L326.7,184.0 L328.7,195.7 L330.3,201.0 L332.6,174.2 L335.2,130.5 L338.8,172.3 L340.7,152.8 L343.3,133.0 L345.6,156.7 L349.1,176.2 L351.4,166.4 L354.6,153.8 L357.3,172.3 L360.2,187.9 L362.2,174.2 L364.1,164.5 L366.6,176.2 L368.1,196.0 L371.3,184.6 L374.6,196.0 L376.8,152.6 L381.0,186.2 L385.1,206.5 L388.4,194.3 L390.8,178.0 L393.5,163.0 L395.7,186.2 L398.9,197.6 L401.3,192.7 L403.8,202.4 L406.2,197.6 L408.6,208.9 L411.0,183.0 L414.3,181.3 L415.0,185.8 L417.0,181.0 L418.6,175.3 L420.7,187.5 L421.6,200.0 L424.7,163.1 L426.7,194.0 L427.3,211.0 L430.4,190.7 L432.0,185.8 L433.7,194.0 L435.3,201.0 L437.7,168.0 L439.7,187.5 L441.0,200.5 L442.6,182.6 L444.2,166.4 L445.8,176.1 L447.5,182.6 L449.4,179.4 L451.0,184.2 L453.1,177.7 L454.8,171.2 L456.4,184.2 L458.0,192.3 L460.1,179.4 L462.1,166.4 L463.7,164.7 L465.6,168.0 L467.8,174.5 L470.2,187.5 L471.8,195.6 L474.4,151.4 L476.7,164.7 L479.1,171.2 L481.6,181.0 L484.0,187.5 L487.3,194.4 L489.6,191.4 L492.2,177.8 L494.1,158.3 L497.0,180.0 L500.0,208.0 L501.9,187.5 L503.9,177.8 L507.4,150.5 L509.7,169.0 L512.2,167.0 L514.6,175.0 L516.5,185.6 L518.5,189.5 L521.4,199.2 L523.4,189.5 L525.3,187.5 L527.3,195.3 L530.2,209.0 L532.5,220.7 L535.0,205.1 L537.0,197.3 L539.9,193.4 L541.9,199.2 L543.8,195.3 L546.7,209.0 L549.1,226.0 L551.6,189.5 L553.6,201.2 L555.5,204.1 L557.5,199.2 L559.4,197.3 L561.4,209.0 L563.6,221.0 L565.3,175.8 L567.2,189.5 L569.2,203.1 L571.1,189.5 L574.0,171.0 L576.3,187.0 L577.9,209.0 L579.8,228.0 L581.8,197.0 L583.8,199.2 L585.7,193.4 L587.7,187.5 L590.2,193.4 L592.2,185.6 L594.2,213.0 L596.5,183.0 L600.0,176.0 L604.0,170.0 L607.5,176.0 L610.0,152.0 L614.0,138.0 L618.8,122.0 L621.7,101.4 L622.8,125.0 L624.0,161.6" fill="none" stroke="#1a3385" stroke-width="3.2" stroke-linejoin="miter" stroke-miterlimit="4"/>
<!-- red -->
<path d="M593.5,180.0 L595.5,165.0 L597.6,155.0 L600.0,163.0 L603.0,160.0 L606.0,166.0 L608.0,160.0 L610.5,150.0 L611.0,176.0 L608.0,188.0 L605.0,196.0 L601.0,206.0 L598.5,196.0 L596.0,188.0 Z" fill="#b02c12"/>
<path d="M613.2,93.4 L616.3,118.0 L621.0,146.1 L624.5,146.0 L627.5,122.0 L631.4,92.0 L635.8,62.0 L638.6,42.0 L640.6,25.0" fill="none" stroke="#d4461a" stroke-width="3.8" stroke-linejoin="miter" stroke-miterlimit="4"/>
<path d="M594.5,190.0 L595.5,170.0 L597.6,156.0 L600.0,168.0 L603.0,163.5 L605.5,176.0 L607.8,178.0 L609.9,155.0 L612.7,120.0 L613.2,93.4" fill="none" stroke="#b3301a" stroke-width="3.8" stroke-linejoin="miter" stroke-miterlimit="4"/>
<circle cx="640.6" cy="25.5" r="1.8" fill="#6a3050" opacity="0.7"/>
<!-- axes -->
<g stroke="#1a3888" fill="none">
 <path d="M75.7,11.5 V249" stroke-width="2"/>
 <path d="M74.7,249 H649" stroke-width="2"/>
 <path d="M75.7,70.4 H86.3" stroke-width="1.8"/>
 <path d="M75.7,130 H86.3" stroke-width="1.8"/>
 <path d="M75.7,189.3 H86.3" stroke-width="1.8"/>
 <path d="M103.5,241 V249" stroke-width="1.5"/>
 <path d="M131.2,241 V249" stroke-width="1.5"/>
 <path d="M159.0,241 V249" stroke-width="1.5"/>
 <path d="M186.8,241 V249" stroke-width="1.5"/>
 <path d="M214.6,237.3 V249" stroke-width="1.5"/>
 <path d="M242.3,241 V249" stroke-width="1.5"/>
 <path d="M270.1,241 V249" stroke-width="1.5"/>
 <path d="M297.9,241 V249" stroke-width="1.5"/>
 <path d="M325.6,241 V249" stroke-width="1.5"/>
 <path d="M353.4,237.3 V249" stroke-width="1.5"/>
 <path d="M381.2,241 V249" stroke-width="1.5"/>
 <path d="M408.9,241 V249" stroke-width="1.5"/>
 <path d="M436.7,241 V249" stroke-width="1.5"/>
 <path d="M464.5,241 V249" stroke-width="1.5"/>
 <path d="M492.2,237.3 V249" stroke-width="1.5"/>
 <path d="M520.0,241 V249" stroke-width="1.5"/>
 <path d="M547.8,241 V249" stroke-width="1.5"/>
 <path d="M575.6,241 V249" stroke-width="1.5"/>
 <path d="M603.3,241 V249" stroke-width="1.5"/>
 <path d="M631.1,237.3 V249" stroke-width="1.5"/>
</g>
<g font-family="'Liberation Sans', sans-serif" fill="#1a3888" stroke="#1a3888" stroke-width="0.5" font-size="18">
<text x="70" y="17.6" text-anchor="end">1.0</text>
<text x="69.5" y="76.2" text-anchor="end">0.5</text>
<text x="69" y="136.9" text-anchor="end">0.0</text>
<text x="69" y="195.3" text-anchor="end">-0.5</text>
<text x="69" y="254.7" text-anchor="end">-1.0</text>
<text x="75" y="270.7" text-anchor="middle">1</text>
<text x="214.5" y="270.7" text-anchor="middle">500</text>
<text x="354" y="270.7" text-anchor="middle">1000</text>
<text x="492.8" y="270.7" text-anchor="middle">1500</text>
<text x="630.5" y="270.7" text-anchor="middle">2000</text>
<text x="356.8" y="303" text-anchor="middle" font-weight="bold" font-size="19.5" letter-spacing="0.35" stroke-width="0.2">Year AD</text>
<text transform="translate(19.4,123.6) rotate(-90)" text-anchor="middle" font-weight="bold" font-size="19.3" stroke-width="0.3">Temperature Anomaly (°C)</text>
</g>
</svg>
</body></html>
